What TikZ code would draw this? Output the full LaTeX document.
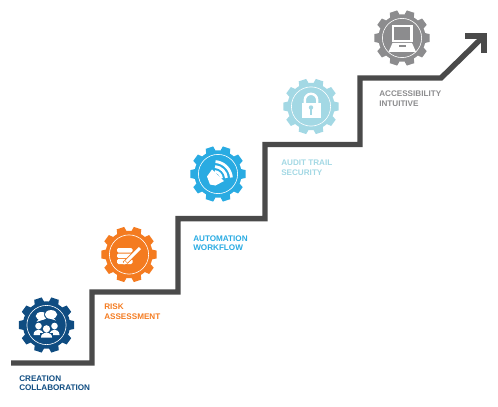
\documentclass[tikz,border=0pt]{standalone}
\usepackage{fontspec}
\setmainfont{Liberation Sans}
\definecolor{stair}{HTML}{4A4A4A}
\definecolor{cnavy}{HTML}{0F4C81}
\definecolor{corange}{HTML}{F47B20}
\definecolor{csky}{HTML}{29ABE2}
\definecolor{cpale}{HTML}{A3D8E4}
\definecolor{cgrey}{HTML}{8C8C8E}
\tikzset{
  steptext/.style={font=\bfseries\fontsize{6.1pt}{7pt}\selectfont,align=left,anchor=north west,inner sep=0pt},
  stairline/.style={draw=stair,line width=4.1pt,miter limit=10},
  ring/.style={draw=white,line width=0.45pt,fill=none},
  ico/.style={fill=white,draw=none},
  pics/gear/.style={code={
    \fill[#1] (-18:23.6)
      \foreach \a in {0,36,...,324}{
        -- (\a-18:23.6) -- (\a-12:23.6) -- (\a-8:28) -- (\a+8:28) -- (\a+12:23.6) -- (\a+18:23.6)
      } -- cycle;
    \draw[ring] (0,0) circle (19.6);
  }}
}
\begin{document}
\begin{tikzpicture}[x=0.75pt,y=-0.75pt]
\useasboundingbox (0,0) rectangle (498,406);
% stairs
\draw[stairline] (11,363) -- (92,363) -- (92,292) -- (178,292) -- (178,218.7) -- (265,218.7) -- (265,144.5) -- (360,144.5) -- (360,78) -- (441,78) -- (484,36);
\draw[stairline] (465,36) -- (484,36) -- (484,53);
% gear 1: people and speech bubbles
\begin{scope}[shift={(46.5,325)}]
 \pic{gear=cnavy};
 \fill[ico] (-5,-9) ellipse (5.8 and 4);
 \fill[ico] (-7,-7) -- (-10,-3) -- (-3,-5.5) -- cycle;
 \fill[cnavy] (4.5,-10.5) ellipse (7 and 5.2);
 \fill[ico] (4.5,-10.5) ellipse (6.2 and 4.4);
 \fill[ico] (6,-8) -- (9.5,-4.5) -- (3,-6.5) -- cycle;
 \fill[ico] (-8,1) circle (3.3);
 \fill[ico] (8,1) circle (3.3);
 \fill[ico] (-13,10) .. controls (-13,6) and (-10,5) .. (-8,4.5) .. controls (-6,5) and (-3,6) .. (-3,10) -- cycle;
 \fill[ico] (13,10) .. controls (13,6) and (10,5) .. (8,4.5) .. controls (6,5) and (3,6) .. (3,10) -- cycle;
 \fill[cnavy] (0,3.8) circle (4.6);
 \fill[cnavy] (-6.5,13.5) -- (-6.5,8) -- (6.5,8) -- (6.5,13.5) -- cycle;
 \fill[ico] (0,3.8) circle (3.6);
 \fill[ico] (-5.5,12.5) .. controls (-5.5,9) and (-3,8) .. (0,7.3) .. controls (3,8) and (5.5,9) .. (5.5,12.5) -- cycle;
\end{scope}
% gear 2: stack and pen
\begin{scope}[shift={(129,254.5)}]
 \pic{gear=corange};
 \fill[ico,rounded corners=1pt] (-12,-6.5) rectangle (3.5,-2);
 \fill[ico,rounded corners=1pt] (-12,-1) rectangle (3.5,3.5);
 \fill[ico,rounded corners=1pt] (-12,4.5) rectangle (3.5,9.5);
 \draw[corange,line width=3.6pt] (-4.5,9) -- (11.5,-7);
 \draw[white,line width=2.2pt] (-2.5,7) -- (11,-6.5);
 \fill[ico] (-5.5,10) -- (-4.5,6) -- (-1.5,9) -- cycle;
\end{scope}
% gear 3: speaker
\begin{scope}[shift={(218,174)}]
 \pic{gear=csky};
 \fill[ico] (-6,-4.5) -- (6,7) -- (-2.5,11.5) -- (-8,10.5) -- (-11,2.5) -- cycle;
 \draw[white,line width=2.1pt] (-4,5) ++(-85:7.5) arc[start angle=-85,end angle=-5,radius=7.5];
 \draw[white,line width=2.1pt] (-4,5) ++(-85:12.5) arc[start angle=-85,end angle=-5,radius=12.5];
 \draw[white,line width=2.1pt] (-4,5) ++(-85:17.5) arc[start angle=-85,end angle=-5,radius=17.5];
\end{scope}
% gear 4: lock
\begin{scope}[shift={(311,106.5)}]
 \pic{gear=cpale};
 \draw[white,line width=1.8pt] (-6.2,-3) -- (-6.2,-6.5) arc[start angle=180,end angle=360,radius=6.2] -- (6.2,-3);
 \fill[ico] (-9.5,-3) rectangle (9.5,11);
 \fill[cpale] (0,1) circle (2.2);
 \fill[cpale] (-0.9,1) rectangle (0.9,8.5);
\end{scope}
% gear 5: laptop
\begin{scope}[shift={(402,38)}]
 \pic{gear=cgrey};
 \fill[ico] (-10.3,-12.7) rectangle (10.7,4);
 \fill[cgrey] (-8,-10.7) rectangle (8.4,1.7);
 \fill[ico] (-9.5,5) -- (10,5) -- (14,14) -- (-13.5,14) -- cycle;
 \fill[cgrey] (-3.3,7.3) rectangle (4,8.7);
\end{scope}
\node[steptext,text=cnavy] (t1) at (19,375.5) {CREATION\\COLLABORATION};
\node[steptext,text=corange] (t2) at (104,304) {RISK\\ASSESSMENT};
\node[steptext,text=csky] (t3) at (193,235.5) {AUTOMATION\\WORKFLOW};
\node[steptext,text=cpale] (t4) at (281,160) {AUDIT TRAIL\\SECURITY};
\node[steptext,text=cgrey] (t5) at (379,91) {ACCESSIBILITY\\INTUITIVE};
\end{tikzpicture}
\end{document}
